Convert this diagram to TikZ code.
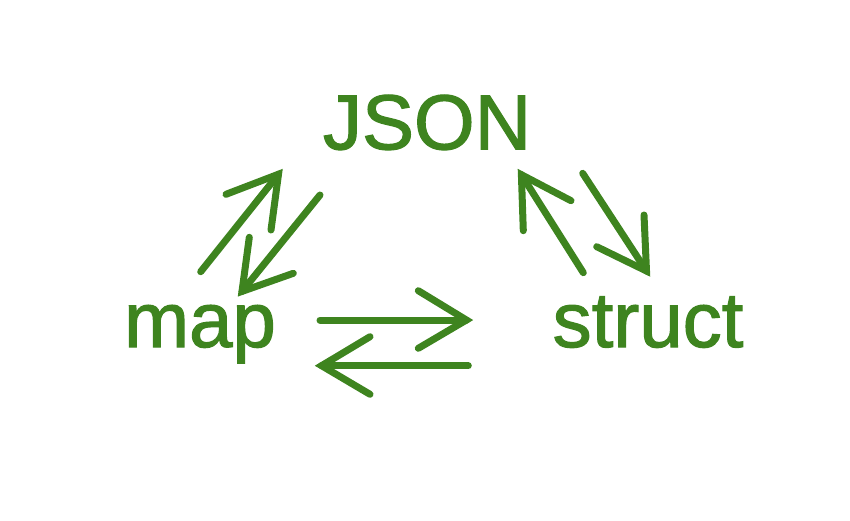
\documentclass[tikz,border=0pt]{standalone}
\usepackage{fontspec}
\newfontfamily\lblfont[FakeBold=1.5]{Liberation Sans}
\definecolor{grn}{HTML}{3E841F}
\tikzset{
  lbl/.style={text=grn,font=\lblfont\fontsize{78}{80}\selectfont,inner sep=0pt,anchor=base},
  shaft/.style={draw=grn,line width=7pt,line cap=round},
  head/.style={draw=grn,line width=7pt,line cap=round,line join=miter,miter limit=10}
}
\begin{document}
\begin{tikzpicture}[x=1pt,y=-1pt]
\useasboundingbox (0,0) rectangle (850,520);
\node[lbl] (json) at (427,149.3) {JSON};
\node[lbl] (map) at (200,347) {map};
\node[lbl] (struct) at (648,347) {struct};
\coordinate (a1) at (200.7,271.7); \coordinate (a2) at (278.5,174.2);
\draw[shaft] (a1) -- (a2);
\coordinate (a3) at (226,194.3); \coordinate (a4) at (271,230);
\draw[head] (a3) -- (a2) -- (a4);
\coordinate (b1) at (320,195); \coordinate (b2) at (242,291.4);
\draw[shaft] (b1) -- (b2);
\coordinate (b3) at (249.3,237.3); \coordinate (b4) at (293.3,273.3);
\draw[head] (b3) -- (b2) -- (b4);
\coordinate (c1) at (583.3,272.7); \coordinate (c2) at (521.4,174.7);
\draw[shaft] (c1) -- (c2);
\coordinate (c3) at (523.3,230.7); \coordinate (c4) at (571,200.7);
\draw[head] (c3) -- (c2) -- (c4);
\coordinate (d1) at (582.7,173.3); \coordinate (d2) at (646.5,271);
\draw[shaft] (d1) -- (d2);
\coordinate (d3) at (644,215); \coordinate (d4) at (596.7,246.7);
\draw[head] (d3) -- (d2) -- (d4);
\coordinate (e1) at (320,320); \coordinate (e2) at (466.4,320);
\draw[shaft] (e1) -- (e2);
\coordinate (e3) at (418.3,290.7); \coordinate (e4) at (418.3,348.3);
\draw[head] (e3) -- (e2) -- (e4);
\coordinate (f1) at (468.3,365.7); \coordinate (f2) at (321.6,365.7);
\draw[shaft] (f1) -- (f2);
\coordinate (f3) at (370,336.7); \coordinate (f4) at (370,394.3);
\draw[head] (f3) -- (f2) -- (f4);
\end{tikzpicture}
\end{document}
